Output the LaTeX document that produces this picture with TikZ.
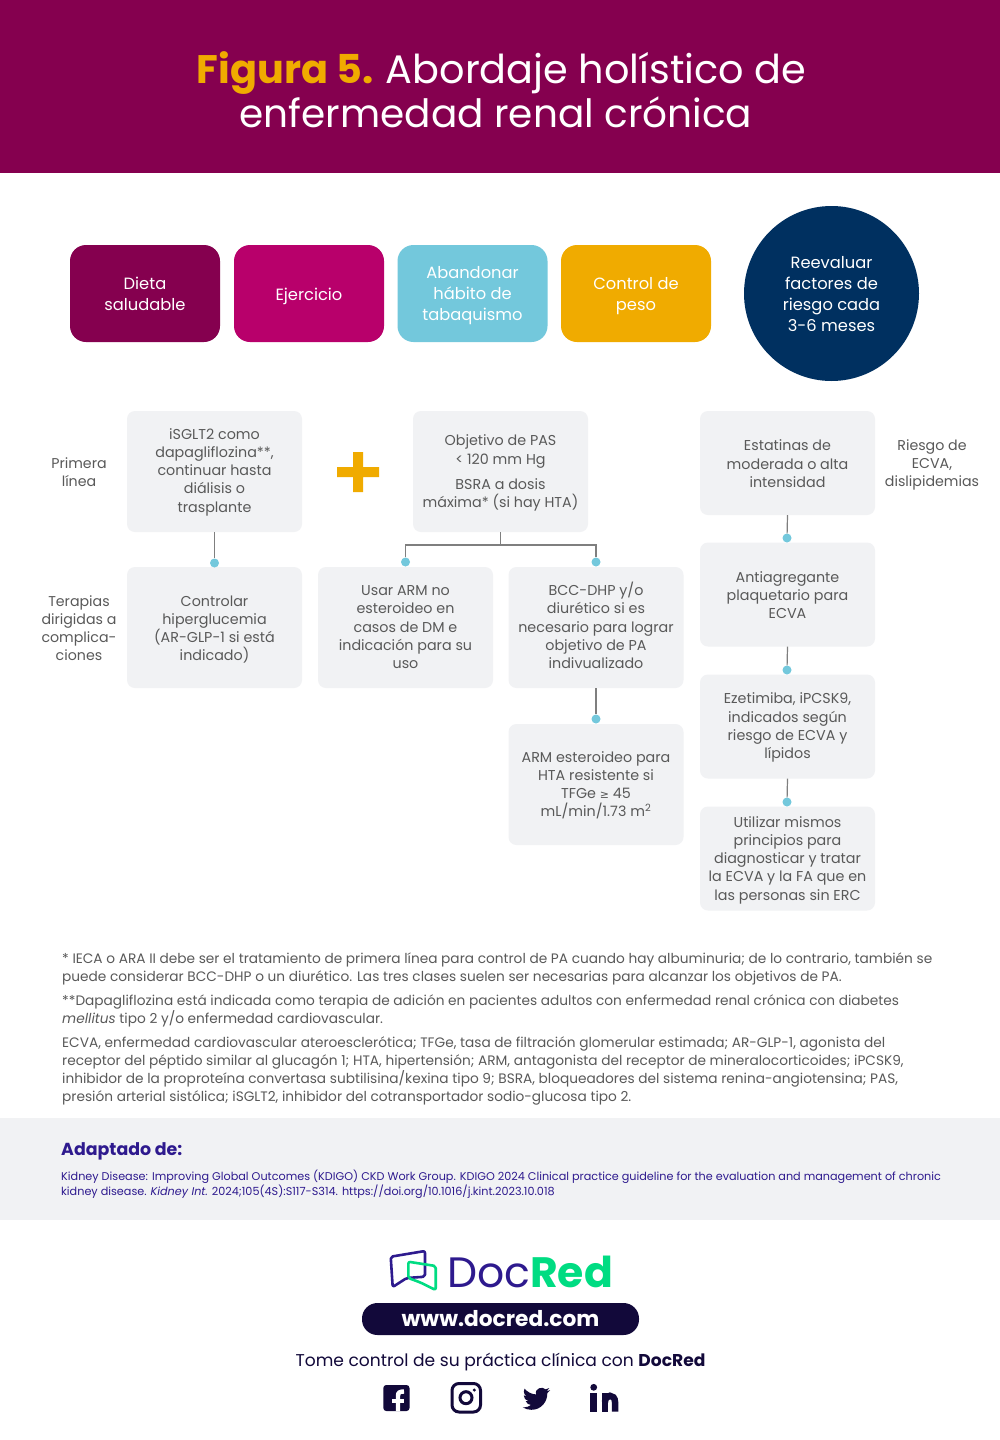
\documentclass[tikz,border=0pt]{standalone}
\usepackage{fontspec}
\setmainfont{Poppins}
\newfontfamily\symfont{DejaVu Sans}
\definecolor{wine}{HTML}{85004F}
\definecolor{magentaA}{HTML}{B8006B}
\definecolor{skyA}{HTML}{73C8DC}
\definecolor{goldA}{HTML}{F0AB00}
\definecolor{navyA}{HTML}{003060}
\definecolor{paleA}{HTML}{F1F2F4}
\definecolor{textA}{HTML}{595959}
\definecolor{lineA}{HTML}{7F7F7F}
\definecolor{indigoA}{HTML}{2E1A8E}
\definecolor{darkA}{HTML}{12093A}
\definecolor{greenA}{HTML}{00DC82}
\newcommand{\fs}[2]{\fontsize{#1}{#2}\selectfont}
\tikzset{
 x=1pt,y=-1pt,
 topbox/.style={rectangle,rounded corners=16,minimum width=150,minimum height=97,inner sep=0,align=center,text=white,text depth=0pt,font=\fs{16.3}{21}},
 graybox/.style={rectangle,rounded corners=8,fill=paleA,minimum width=175,inner sep=0,align=center,text=textA,text depth=0pt,font=\fs{14.3}{18.2}},
 sidelabel/.style={inner sep=0,align=center,text=textA,text depth=0pt,font=\fs{14.2}{18.2}},
 note/.style={inner sep=0,align=left,anchor=north west,text=textA,font=\fs{13.7}{18}},
 titleline/.style={inner sep=0,text=white},
 link/.style={draw=lineA,line width=1.2},
 dotA/.style={circle,fill=skyA,minimum size=9,inner sep=0},
 icon/.style={fill=darkA,draw=none},
 two/.style={text height=28.5pt},
 three/.style={text height=46.7pt},
 four/.style={text height=64.9pt},
 five/.style={text height=82.1pt},
 ttwo/.style={text height=34.5pt},
 tthree/.style={text height=53.5pt},
 tfour/.style={text height=76.5pt},
}
\begin{document}
\begin{tikzpicture}
\useasboundingbox (0,0) rectangle (1000,1440);
\fill[white] (0,0) rectangle (1000,1440);
\fill[wine] (0,0) rectangle (1000,173);
\node[titleline,anchor=base,font=\fs{39.8}{44}] (title1) at (501.5,83) {{\bfseries\color{goldA}Figura 5.}\hspace{-2pt} Abordaje holístico de};
\node[titleline,anchor=base,font=\fs{39}{44}] (title2) at (496,127) {enfermedad renal crónica};

\node[topbox,ttwo,fill=wine] (t1) at (145,293.5) {Dieta\\saludable};
\node[topbox,text height=13.5pt,fill=magentaA] (t2) at (309,293.5) {Ejercicio};
\node[topbox,tthree,fill=skyA] (t3) at (472.5,293.5) {Abandonar\\hábito de\\tabaquismo};
\node[topbox,ttwo,fill=goldA] (t4) at (636,293.5) {Control de\\peso};
\node[circle,fill=navyA,minimum size=175,inner sep=0,align=center,text=white,text depth=0pt,tfour,font=\fs{16.3}{21}] (t5) at (831.5,293.5) {Reevaluar\\factores de\\riesgo cada\\3-6 meses};

\node[sidelabel,two] (l1) at (79,472) {Primera\\línea};
\node[sidelabel,four] (l2) at (79,628.5) {Terapias\\dirigidas a\\complica-\\ciones};
\node[sidelabel,three] (l3) at (932,463.5) {Riesgo de\\ECVA,\\dislipidemias};

\node[graybox,text height=81.1pt,minimum height=121] (a) at (214.5,471.5) {iSGLT2 como\\dapagliflozina**,\\continuar hasta\\diálisis o\\trasplante};
\node[graybox,text height=66.9pt,minimum height=121] (b) at (214.5,627.5) {Controlar\\hiperglucemia\\(AR-GLP-1 si está\\indicado)};
\node[graybox,text height=71.9pt,minimum height=121] (c) at (500.5,471.5) {Objetivo de PAS\\< 120 mm Hg\\[7pt]BSRA a dosis\\máxima* (si hay HTA)};
\node[graybox,five,minimum height=121] (d) at (405.5,627.5) {Usar ARM no\\esteroideo en\\casos de DM e\\indicación para su\\uso};
\node[graybox,five,minimum height=121] (e) at (596,627.5) {BCC-DHP y/o\\diurético si es\\necesario para lograr\\objetivo de PA\\indivualizado};
\node[graybox,four,minimum height=121] (f) at (596,784.5) {ARM esteroideo para\\HTA resistente si\\TFGe {\symfont\fs{11}{18.2}≥} 45\\mL/min/1.73 m\textsuperscript{2}};
\node[graybox,text height=48.7pt,minimum height=104] (g) at (787.5,463) {Estatinas de\\moderada o alta\\intensidad};
\node[graybox,text height=48.7pt,minimum height=104] (h) at (787.5,594.5) {Antiagregante\\plaquetario para\\ECVA};
\node[graybox,text height=63.9pt,minimum height=104] (i) at (787.5,726.5) {Ezetimiba, iPCSK9,\\indicados según\\riesgo de ECVA y\\lípidos};
\node[graybox,text height=83.1pt,minimum height=104] (j) at (787.5,858.5) {Utilizar mismos\\principios para\\diagnosticar y tratar\\la ECVA y la FA que en\\las personas sin ERC};

\node[dotA] (da) at (214.5,563) {};
\node[dotA] (dd) at (405.5,562) {};
\node[dotA] (de) at (596,562) {};
\node[dotA] (df) at (596,719) {};
\node[dotA] (dh) at (787,538) {};
\node[dotA] (di) at (787,670) {};
\node[dotA] (dj) at (787,802) {};
\coordinate (fork) at (500.5,545);
\draw[link] (a.south) -- (da);
\draw[link] (c.south) -- (fork);
\draw[link] (dd) |- (fork) -| (de);
\draw[link] (e.south) -- (df);
\draw[link] (g.south) -- (dh);
\draw[link] (h.south) -- (di);
\draw[link] (i.south) -- (dj);

\fill[goldA] (337,467) rectangle (379,477) (353,452) rectangle (363,492);

\node[note] (n1) at (62,952.5) {* IECA o ARA II debe ser el tratamiento de primera línea para control de PA cuando hay albuminuria; de lo contrario, también se\\puede considerar BCC-DHP o un diurético. Las tres clases suelen ser necesarias para alcanzar los objetivos de PA.};
\node[note] (n2) at (62,994) {**Dapagliflozina está indicada como terapia de adición en pacientes adultos con enfermedad renal crónica con diabetes\\{\itshape mellitus} tipo 2 y/o enfermedad cardiovascular.};
\node[note] (n3) at (62,1036.5) {ECVA, enfermedad cardiovascular ateroesclerótica; TFGe, tasa de filtración glomerular estimada; AR-GLP-1, agonista del\\receptor del péptido similar al glucagón 1; HTA, hipertensión; ARM, antagonista del receptor de mineralocorticoides; iPCSK9,\\inhibidor de la proproteína convertasa subtilisina/kexina tipo 9; BSRA, bloqueadores del sistema renina-angiotensina; PAS,\\presión arterial sistólica; iSGLT2, inhibidor del cotransportador sodio-glucosa tipo 2.};

\fill[paleA] (0,1118) rectangle (1000,1220);
\node[inner sep=0,anchor=west,text=indigoA,font=\fs{17.4}{20}\bfseries] (adapt) at (61,1151) {Adaptado de:};
\node[inner sep=0,anchor=north west,align=left,text=indigoA,font=\fs{11.22}{15}] (ref) at (61,1170) {Kidney Disease: Improving Global Outcomes (KDIGO) CKD Work Group. KDIGO 2024 Clinical practice guideline for the evaluation and management of chronic\\kidney disease. {\itshape Kidney Int.} 2024;105(4S):S117-S314. https://doi.org/10.1016/j.kint.2023.10.018};

% logo
\draw[indigoA,line width=2.6,line join=round,rounded corners=2] (390.7,1256.7) -- (425,1251) -- (425,1276.7) -- (406.7,1278) -- (392.7,1287) -- cycle;
\draw[greenA,line width=2.6,line join=round,rounded corners=2] (408.3,1261.7) -- (435.7,1266) -- (435.7,1290) -- (420,1282.3) -- (408.3,1278) -- cycle;
\node[inner sep=0,anchor=base west,font=\fs{42.5}{44}] (logo) at (447,1287) {{\color{indigoA}Doc}{\bfseries\color{greenA}Red}};
\node[rectangle,rounded corners=15.5,fill=darkA,minimum width=277,minimum height=32,inner sep=0,text=white,font=\fs{21.7}{24}\bfseries] (pill) at (500.5,1319) {www.docred.com};
\node[inner sep=0,text=darkA,font=\fs{17.1}{20}] (tome) at (500.5,1362) {Tome control de su práctica clínica con {\bfseries DocRed}};

% facebook
\fill[icon,rounded corners=3] (383.3,1385) rectangle (409.5,1411);
\draw[white,line width=4.4] (398,1411) -- (398,1396) .. controls (398,1392.5) and (399.5,1391.5) .. (404,1391.5);
\draw[white,line width=4] (392,1400.5) -- (404,1400.5);
% instagram
\draw[darkA,line width=3,rounded corners=7] (452,1383.5) rectangle (480.5,1412);
\draw[darkA,line width=3] (466,1397.7) circle (6);
\fill[darkA] (474.3,1390) circle (1.7);
% twitter
\begin{scope}[shift={(522.7,1385)},x=1.14pt,y=-1.14pt]
\fill[icon] (23.953,4.57) -- (21.128,5.345) .. controls (22.1,4.7) and (22.9,3.8) .. (23.291,2.622) .. controls (22.34,3.177) and (21.286,3.581) .. (20.164,3.806) .. controls (17.5,0.8) and (10.1,2.8) .. (11.78,8.288) .. controls (7.69,8.095) and (4.067,6.13) .. (1.64,3.162) -- (0.974,5.637) .. controls (0.974,7.347) and (1.844,8.85) .. (3.162,9.733) -- (0.934,9.117) -- (0.934,9.177) .. controls (0.934,11.5) and (2.6,13.6) .. (4.88,14.004) -- (2.668,14.089) .. controls (3.3,16.1) and (5.2,17.4) .. (7.272,17.506) .. controls (5.6,18.8) and (3.5,19.611) .. (1.17,19.611) .. controls (0.78,19.611) and (0.391,19.588) .. (0,19.544) .. controls (2.2,20.95) and (4.8,21.753) .. (7.557,21.753) .. controls (16.61,21.753) and (21.555,14.257) .. (21.555,7.768) .. controls (21.555,7.558) and (21.555,7.348) .. (21.54,7.138) .. controls (22.5,6.45) and (23.35,5.55) .. (24,4.59) -- cycle;
\end{scope}
% linkedin
\fill[icon] (593.7,1387.3) circle (3.4);
\fill[icon] (590.3,1392.7) rectangle (597.2,1411.7);
\fill[icon] (601.7,1392.7) rectangle (608.3,1411.7);
\draw[darkA,line width=6.5] (605,1402) .. controls (605,1394) and (615,1393.5) .. (615,1402) -- (615,1411.7);
\end{tikzpicture}
\end{document}
